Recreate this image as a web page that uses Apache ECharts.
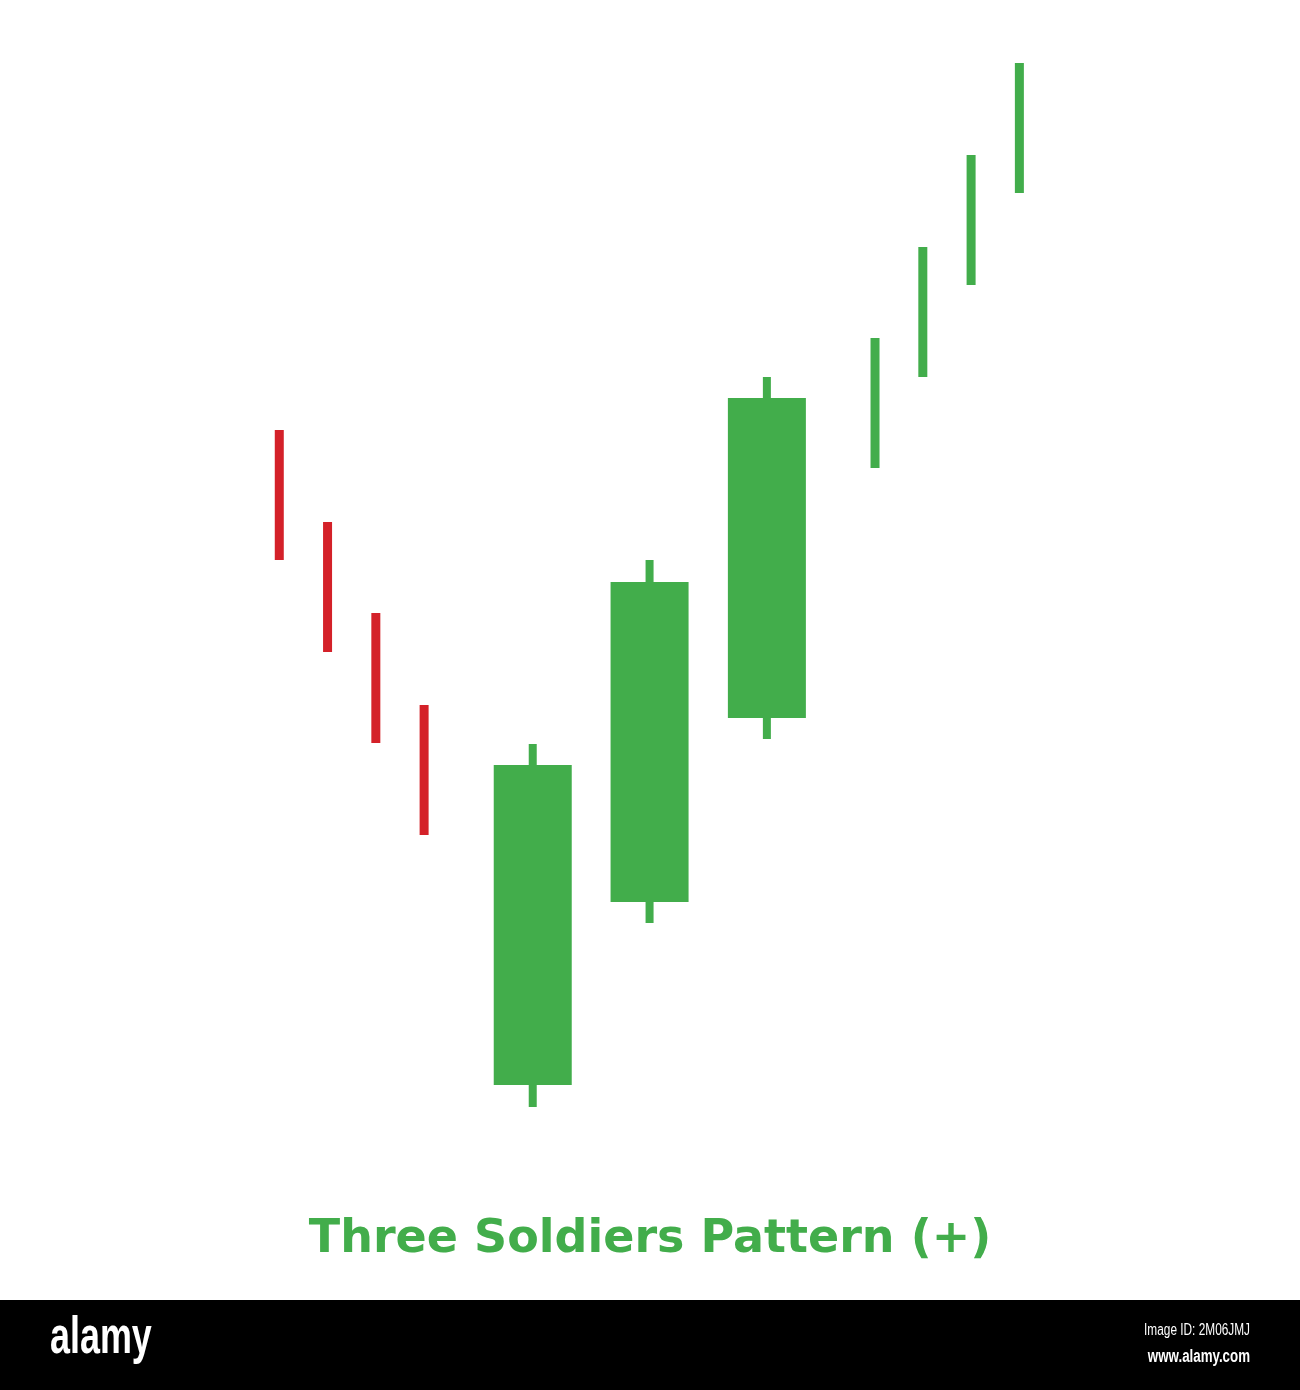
<!DOCTYPE html>
<html><head><meta charset="utf-8">
<script src="https://cdn.jsdelivr.net/npm/echarts@6/dist/echarts.min.js"></script>
<style>html,body{margin:0;padding:0;background:#fff}#chart{width:1300px;height:1390px}</style>
</head><body><div id="chart"></div>
<script>
// Prior downtrend (range-only bars)
const downPos = [0, 1, 2, 3];
const downHigh = [71.0, 61.8, 52.7, 43.5];
const downLow = [58.0, 48.8, 39.7, 30.5];
// Three white soldiers
const soldierPos = [5.25, 7.67, 10.1];
const soldierOpen = [5.5, 23.8, 42.2];
const soldierClose = [37.5, 55.8, 74.2];
const soldierLow = [3.3, 21.7, 40.1];
const soldierHigh = [39.6, 58.0, 76.3];
// Continuation uptrend (range-only bars)
const upPos = [12.34, 13.33, 14.33, 15.33];
const upLow = [67.2, 76.3, 85.5, 94.7];
const upHigh = [80.2, 89.3, 98.5, 107.7];

const titleText = 'Three Soldiers Pattern (+)';
const GREEN = '#42AD4B', RED = '#D42129';
const LINE_W = 9, WICK_W = 8, BODY_W = 78;

function rangeItem(params, api) {
  const x = api.value(0), lo = api.value(1), hi = api.value(2);
  const pLo = api.coord([x, lo]), pHi = api.coord([x, hi]);
  return {type: 'rect', shape: {x: pHi[0] - LINE_W / 2, y: pHi[1], width: LINE_W, height: pLo[1] - pHi[1]},
    style: {fill: api.visual('color')}};
}
function candleItem(params, api) {
  const x = api.value(0), o = api.value(1), c = api.value(2), l = api.value(3), h = api.value(4);
  const pO = api.coord([x, o]), pC = api.coord([x, c]), pL = api.coord([x, l]), pH = api.coord([x, h]);
  const top = Math.min(pO[1], pC[1]), bot = Math.max(pO[1], pC[1]);
  const fill = api.visual('color');
  return {type: 'group', children: [
    {type: 'rect', shape: {x: pH[0] - WICK_W / 2, y: pH[1], width: WICK_W, height: pL[1] - pH[1]}, style: {fill}},
    {type: 'rect', shape: {x: pO[0] - BODY_W / 2, y: top, width: BODY_W, height: bot - top}, style: {fill}}
  ]};
}

const downData = downPos.map((p, i) => [p, downLow[i], downHigh[i]]);
const upData = upPos.map((p, i) => [p, upLow[i], upHigh[i]]);
const soldierData = soldierPos.map((p, i) => [p, soldierOpen[i], soldierClose[i], soldierLow[i], soldierHigh[i]]);

const chart = echarts.init(document.getElementById('chart'));
chart.setOption({
  animation: false,
  backgroundColor: '#fff',
  title: {text: titleText, left: 'center', top: 1212,
    textStyle: {fontSize: 46, fontWeight: 'bold', fontFamily: 'DejaVu Sans', color: GREEN}},
  grid: {left: 231, width: 869, top: 40, height: 1100},
  xAxis: {type: 'value', min: -1, max: 17, show: false},
  yAxis: {type: 'value', min: 0, max: 110, show: false},
  series: [
    {type: 'custom', name: 'down', renderItem: rangeItem, itemStyle: {color: RED}, encode: {x: 0, y: [1, 2]}, data: downData},
    {type: 'custom', name: 'soldiers', renderItem: candleItem, itemStyle: {color: GREEN}, encode: {x: 0, y: [1, 2, 3, 4]}, data: soldierData},
    {type: 'custom', name: 'up', renderItem: rangeItem, itemStyle: {color: GREEN}, encode: {x: 0, y: [1, 2]}, data: upData}
  ],
  graphic: [
    {type: 'rect', x: 0, y: 1300, shape: {width: 1300, height: 90}, style: {fill: '#000'}},
    {type: 'text', x: 50, y: 1313, scaleX: 0.69,
      style: {text: 'alamy', fill: '#fff', textVerticalAlign: 'top', font: 'bold 52px "Liberation Sans", Arial, sans-serif'}},
    {type: 'text', x: 1250, y: 1323, scaleX: 0.74,
      style: {text: 'Image ID: 2M06JMJ', fill: '#fff', textAlign: 'right', textVerticalAlign: 'top', font: '16px "Liberation Sans", Arial, sans-serif'}},
    {type: 'text', x: 1250, y: 1348, scaleX: 0.74,
      style: {text: 'www.alamy.com', fill: '#fff', textAlign: 'right', textVerticalAlign: 'top', font: 'bold 18px "Liberation Sans", Arial, sans-serif'}}
  ]
});
</script></body></html>
